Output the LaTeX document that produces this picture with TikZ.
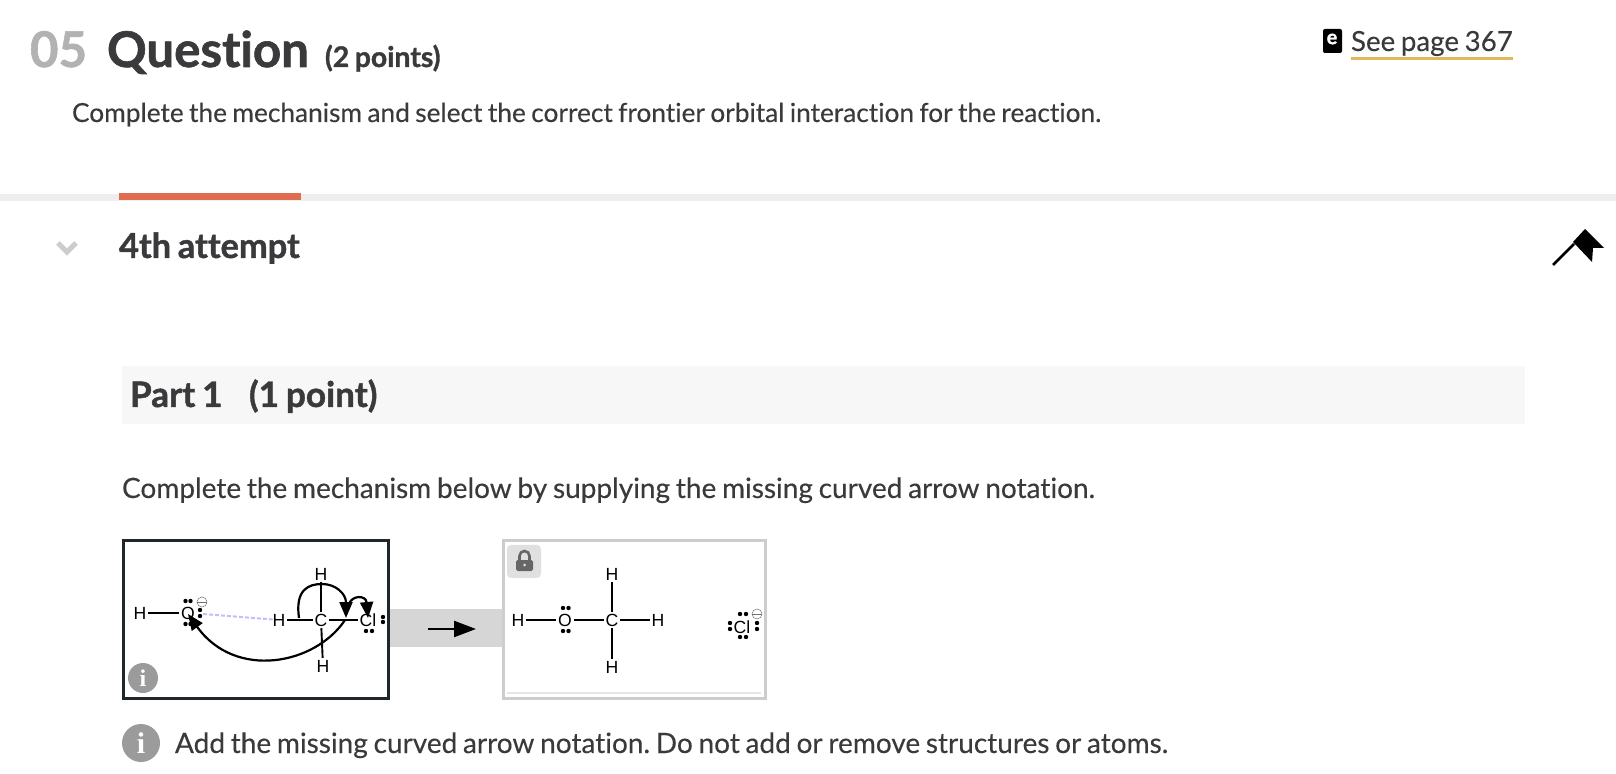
\documentclass[tikz,border=0pt]{standalone}
\usepackage{fontspec}
\setmainfont{Lato}[Ligatures=CommonOff,WordSpace=0.8,FakeBold=0.25,BoldFeatures={FakeBold=1.2}]
\newfontfamily\chemfont{Liberation Sans}
\usetikzlibrary{arrows.meta,calc}
\frenchspacing
\definecolor{inktext}{HTML}{3A3A3C}
\definecolor{framedark}{HTML}{1F272B}
\definecolor{framegrey}{HTML}{CDCDCD}
\definecolor{rulegrey}{HTML}{EEEEEE}
\definecolor{orangebar}{HTML}{E06C4F}
\definecolor{goldline}{HTML}{DDB95C}
\definecolor{bandgrey}{HTML}{D6D6D6}
\definecolor{infogrey}{HTML}{9B9B9B}
\tikzset{
  txt/.style={anchor=base west,inner sep=0pt,outer sep=0pt,text=inktext},
  atom/.style={inner sep=0pt,outer sep=0pt,minimum size=0pt,font=\chemfont\fontsize{8.8}{8.8}\selectfont},
  bond/.style={line width=.95pt,black,shorten >=1pt,shorten <=1pt},
  lp/.style={circle,fill=black,inner sep=0pt,minimum size=2.2pt},
  minus/.style={circle,draw=black!55,line width=.25pt,inner sep=0pt,minimum size=5pt},
  curly/.style={line width=1.1pt,black,-{Triangle[length=8pt,width=6.5pt]}},
  info/.style={circle,fill=infogrey,text=white,inner sep=0pt,font=\fontspec{Liberation Serif}\bfseries},
}
\begin{document}
\frenchspacing
\begin{tikzpicture}[x=.5pt,y=-.5pt]
  \useasboundingbox (0,0) rectangle (1616,774);
  % header
  \node[txt,text=black!30,font=\bfseries\fontsize{24.6}{24.6}\selectfont] (num) at (30,67) {05};
  \node[txt,font=\bfseries\fontsize{24.6}{24.6}\selectfont] (title) at (107,67) {Question};
  \node[txt,font=\bfseries\fontsize{14.2}{14.2}\selectfont] (pts) at (325,67) {(2 points)};
  \node[txt,font=\fontsize{13.13}{13.13}\selectfont] (intro) at (72,122) {Complete the mechanism and select the correct frontier orbital interaction for the reaction.};
  \node[txt,font=\fontsize{13.85}{13.85}\selectfont] (page) at (1351,51) {See page 367};
  \fill[goldline] (1351,57) rectangle (1513,60);
  \fill[black,rounded corners=1pt] (1323,29) rectangle (1342,53);
  \node[inner sep=0pt,text=white,font=\bfseries\fontsize{10}{10}\selectfont] (book) at (1332,39) {e};
  % tabs
  \fill[rulegrey] (0,194) rectangle (1616,201);
  \fill[orangebar] (119,193) rectangle (301,200);
  \draw[framegrey,line width=2.6pt] (58,243)--(67,252)--(76,243);
  \node[txt,font=\bfseries\fontsize{17.2}{17.2}\selectfont] (attempt) at (119,258) {4th attempt};
  \draw[black,line width=1.4pt] (1553,265)--(1574,244);
  \fill[black] (1573,242)--(1585,229)--(1604,248)--(1593,248)--(1592,262)--cycle;
  % part heading
  \fill[black!3] (122,366) rectangle (1525,424);
  \node[txt,font=\bfseries\fontsize{17.6}{17.6}\selectfont] (part) at (130,407) {Part 1};
  \node[txt,font=\bfseries\fontsize{17.6}{17.6}\selectfont] (point) at (249,407) {(1 point)};
  \node[txt,font=\fontsize{14}{14}\selectfont] (ask) at (122,498) {Complete the mechanism below by supplying the missing curved arrow notation.};
  % boxes
  \fill[bandgrey] (390,609) rectangle (502,647);
  \draw[framedark,line width=1.5pt] (123.5,541) rectangle (388,698);
  \draw[framegrey,line width=1.5pt] (503,541) rectangle (765,698);
  \draw[black!10,line width=1pt] (507,693)--(761,693);
  \coordinate (gofrom) at (428,629);
  \coordinate (goto) at (476,629);
  \draw[line width=1.2pt,-{Triangle[length=11pt,width=8pt]}] (gofrom)--(goto);
  \node[info,minimum size=15pt,font=\fontspec{Liberation Serif}\bfseries\fontsize{12}{12}\selectfont] (infoa) at (143,678) {i};
  \fill[black!12,rounded corners=2pt] (507,545) rectangle (541,578);
  \fill[black!60,rounded corners=.8pt] (516,560) rectangle (533,571);
  \draw[black!60,line width=1.3pt] (519.5,560)--(519.5,556) arc[start angle=180,end angle=360,radius=5]--(529.5,560);
  \fill[black!12] (524.5,565) circle[radius=1.5];
  % left structure
  \node[atom] (ho) at (140,613) {H};
  \node[atom] (o) at (188,613) {O};
  \node[atom] (hm) at (279,620) {H};
  \node[atom] (c) at (321,620) {C};
  \node[atom] (ht) at (321,574) {H};
  \node[atom] (hb) at (323,666) {H};
  \node[atom] (cl) at (368,620) {Cl};
  \draw[bond] (ho)--(o);
  \draw[bond] (hm)--(c);
  \draw[bond] (ht)--(c);
  \draw[bond] (c)--(hb);
  \draw[bond] (c)--(cl);
  \draw[blue!25,line width=1pt,dash pattern=on 2pt off 1pt] (o)+(15,1)--(hm);
  \foreach \x/\y in {185.5/601,190.5/601,185.5/624,190.5/624,200/610,200/616,383/617,383/622,366/631,372/631}
    \node[lp] at (\x,\y) {};
  \node[minus] (mina) at (202,602) {};
  \draw[black!55,line width=.25pt] (mina.west)--(mina.east);
  \draw[curly] (299,618) .. controls (295,590) and (308,584) .. (322,584) .. controls (336,584) and (346,594) .. (346,618);
  \draw[curly] (349,604) .. controls (352,595) and (366,595) .. (368,618);
  \draw[curly] (345,620) .. controls (315,665) and (235,680) .. (188,614);
  % right structure
  \node[atom] (rh) at (518,620) {H};
  \node[atom] (ro) at (565,620) {O};
  \node[atom] (rc) at (612,620) {C};
  \node[atom] (rhr) at (658,620) {H};
  \node[atom] (rht) at (612,574) {H};
  \node[atom] (rhb) at (612,667) {H};
  \node[atom] (rcl) at (742,627) {Cl};
  \draw[bond] (rh)--(ro);
  \draw[bond] (ro)--(rc);
  \draw[bond] (rc)--(rhr);
  \draw[bond] (rht)--(rc);
  \draw[bond] (rc)--(rhb);
  \foreach \x/\y in {563/608,568.5/608,563/631,568.5/631,730/623,730/629,740/614,746/614,740/637,746/637,757/623,757/629}
    \node[lp] at (\x,\y) {};
  \node[minus] (minb) at (757,614) {};
  \draw[black!55,line width=.25pt] (minb.west)--(minb.east);
  % hint
  \node[info,minimum size=19pt,font=\fontspec{Liberation Serif}\bfseries\fontsize{15}{15}\selectfont] (infob) at (141,743) {i};
  \node[txt,font=\fontsize{14}{14}\selectfont] (hint) at (175,753) {Add the missing curved arrow notation. Do not add or remove structures or atoms.};
\end{tikzpicture}
\end{document}
